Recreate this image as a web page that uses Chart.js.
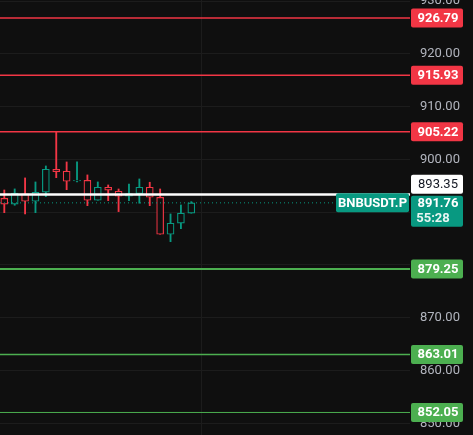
<!DOCTYPE html>
<html>
<head>
<meta charset="utf-8">
<script src="https://cdn.jsdelivr.net/npm/chart.js@4/dist/chart.umd.min.js"></script>
<style>
  html, body { margin: 0; padding: 0; background: #0f0f0f; }
  #wrap { width: 473px; height: 435px; position: relative; }
</style>
</head>
<body>
<div id="wrap"><canvas id="chart"></canvas></div>
<script>
const SYMBOL = 'BNBUSDT.P';
const COUNTDOWN = '55:28';

// candles, oldest first
const opens  = [892.63, 891.50, 893.45, 892.06, 893.77, 898.13, 897.75, 895.91, 896.04, 892.25, 894.72, 893.96, 893.01, 893.50, 894.72, 892.82, 885.81, 887.90, 889.80];
const highs  = [894.20, 894.40, 896.48, 895.72, 898.75, 905.22, 899.51, 899.51, 897.05, 895.72, 895.15, 894.39, 895.34, 896.29, 895.66, 894.39, 889.66, 891.36, 891.99];
const lows   = [889.90, 891.30, 889.66, 889.90, 892.94, 896.53, 894.26, 895.72, 891.23, 892.25, 892.18, 890.10, 892.18, 891.69, 891.23, 885.81, 884.41, 886.87, 889.80];
const closes = [891.50, 893.60, 892.06, 893.77, 898.13, 897.67, 895.85, 896.04, 892.25, 894.72, 894.15, 893.01, 893.50, 894.72, 892.82, 885.81, 887.90, 889.80, 891.76];

const resistance = [926.79, 915.93, 905.22];
const support = [879.25, 863.01, 852.05];
const markPrice = 893.35;
const lastPrice = 891.76;
const yTicks = [850, 860, 870, 880, 890, 900, 910, 920, 930];

const BG = '#0f0f0f';
const RED = '#f23645';
const GREEN = '#089981';
const LEVEL_GREEN = '#4caf50';
const X_MIN = -0.414, X_MAX = 39.05;

const idx = opens.map((_, i) => i);
const candleColor = idx.map(i => closes[i] >= opens[i] ? GREEN : RED);
const allLevels = resistance.concat(support, [markPrice, lastPrice]);

function hline(price, color, width, dash) {
  return {
    type: 'line',
    data: [{ x: X_MIN, y: price }, { x: X_MAX, y: price }],
    borderColor: color,
    borderWidth: width,
    borderDash: dash || [],
    pointRadius: 0,
    order: -1
  };
}

function roundRect(ctx, x, y, w, h, r) {
  ctx.beginPath();
  ctx.moveTo(x + r, y);
  ctx.arcTo(x + w, y, x + w, y + h, r);
  ctx.arcTo(x + w, y + h, x, y + h, r);
  ctx.arcTo(x, y + h, x, y, r);
  ctx.arcTo(x, y, x + w, y, r);
  ctx.closePath();
  ctx.fill();
}

const priceLabels = {
  id: 'priceLabels',
  afterDraw(chart) {
    const ctx = chart.ctx;
    const y = chart.scales.y;
    const bx = 411, bw = 52, bh = 19;
    ctx.save();
    ctx.textBaseline = 'middle';
    ctx.textAlign = 'center';

    const box = (price, fill, text, color, weight) => {
      const py = y.getPixelForValue(price);
      ctx.fillStyle = fill;
      roundRect(ctx, bx, py - bh / 2, bw, bh, 2);
      ctx.fillStyle = color;
      ctx.font = weight + ' 13px Roboto, sans-serif';
      ctx.fillText(text, bx + bw / 2 + 1, py + 0.5);
    };
    resistance.forEach(p => box(p, RED, p.toFixed(2), '#ffffff', 'bold'));
    support.forEach(p => box(p, LEVEL_GREEN, p.toFixed(2), '#ffffff', 'bold'));

    // last price with countdown
    const ly = y.getPixelForValue(lastPrice);
    const top = ly - 7;
    ctx.fillStyle = GREEN;
    roundRect(ctx, bx, top, bw, 31, 2);
    ctx.fillStyle = '#ffffff';
    ctx.font = 'bold 13px Roboto, sans-serif';
    ctx.fillText(lastPrice.toFixed(2), bx + bw / 2 + 1, ly + 0.5);
    ctx.fillStyle = '#e8f5f2';
    ctx.fillText(COUNTDOWN, bx + bw / 2 - 4, ly + 15.5);

    // mark price pushed above the last price box
    ctx.fillStyle = '#ffffff';
    roundRect(ctx, bx, top - 2 - bh, bw, bh, 2);
    ctx.fillStyle = '#131722';
    ctx.font = '13px Roboto, sans-serif';
    ctx.fillText(markPrice.toFixed(2), bx + bw / 2 + 1, top - 2 - bh / 2 + 0.5);

    // symbol tag
    ctx.fillStyle = GREEN;
    roundRect(ctx, 336, ly - 9.5, 73, 19, 2);
    ctx.fillStyle = '#ffffff';
    ctx.font = 'bold 13px Roboto, sans-serif';
    ctx.fillText(SYMBOL, 372.5, ly + 0.5);
    ctx.restore();
  }
};

new Chart(document.getElementById('chart'), {
  data: {
    datasets: [
      hline(resistance[0], RED, 1.5),
      hline(resistance[1], RED, 1.5),
      hline(resistance[2], RED, 1.5),
      hline(support[0], LEVEL_GREEN, 2),
      hline(support[1], LEVEL_GREEN, 1.5),
      hline(support[2], LEVEL_GREEN, 1),
      hline(markPrice, '#ffffff', 2.5),
      hline(lastPrice, GREEN, 1, [1, 3]),
      {
        type: 'bar',
        data: idx.map(i => ({ x: i, y: [opens[i], closes[i]] })),
        backgroundColor: BG,
        borderColor: candleColor,
        borderWidth: 1.2,
        borderSkipped: false,
        barThickness: 7,
        grouped: false,
        order: 0
      },
      {
        type: 'bar',
        data: idx.map(i => ({ x: i, y: [lows[i], highs[i]] })),
        backgroundColor: candleColor,
        borderWidth: 0,
        barThickness: 1.2,
        grouped: false,
        order: 1
      }
    ]
  },
  options: {
    responsive: true,
    maintainAspectRatio: false,
    animation: false,
    layout: { padding: 0 },
    plugins: { legend: { display: false }, tooltip: { enabled: false } },
    scales: {
      x: {
        type: 'linear',
        min: X_MIN,
        max: X_MAX,
        offset: false,
        afterBuildTicks: s => { s.ticks = [{ value: 19 }]; },
        afterFit: s => { s.height = 0; s.paddingLeft = 0; s.paddingRight = 0; },
        ticks: { display: false },
        grid: { color: '#1c1c1c', drawTicks: false, offset: false },
        border: { display: false }
      },
      y: {
        position: 'right',
        min: 847.78,
        max: 930.19,
        afterBuildTicks: s => { s.ticks = yTicks.map(v => ({ value: v })); },
        afterFit: s => { s.width = 63; s.paddingTop = 0; s.paddingBottom = 0; },
        ticks: {
          color: '#b2b5be',
          padding: 10,
          font: { family: 'Roboto, sans-serif', size: 13 },
          // labels sitting under a price tag are hidden, like the original
          callback: v => allLevels.some(p => Math.abs(p - v) < 2) ? '' : Number(v).toFixed(2)
        },
        grid: { color: '#1c1c1c', drawTicks: false },
        border: { display: false }
      }
    }
  },
  plugins: [priceLabels]
});
</script>
</body>
</html>
